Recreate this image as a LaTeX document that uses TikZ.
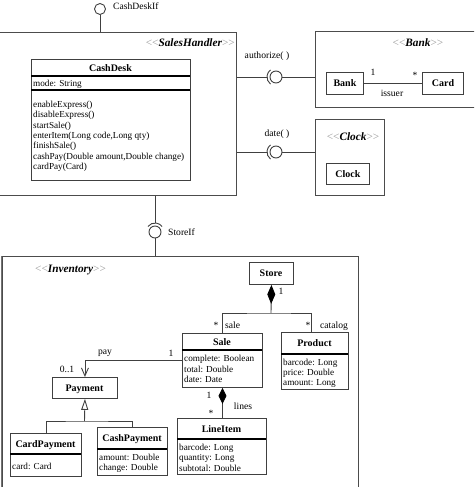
\documentclass[tikz,border=0pt]{standalone}
\usepackage{fontspec}
\setmainfont{Liberation Serif}
\usetikzlibrary{arrows.meta}
\begin{document}
\begin{tikzpicture}[x=1pt,y=-1pt,
  pkg/.style={draw=black!70,line width=0.9pt,inner sep=0,anchor=north west},
  cls/.style={draw=black!75,line width=0.9pt,inner sep=0,anchor=north west,fill=white},
  sep/.style={line width=1.6pt,black},
  ttl/.style={font=\fontsize{10}{12}\selectfont\bfseries,anchor=base,inner sep=0},
  txt/.style={font=\fontsize{9.2}{10.4}\selectfont,anchor=base west,inner sep=0},
  lbl/.style={font=\fontsize{9.6}{11}\selectfont,anchor=base,inner sep=0},
  ster/.style={font=\fontsize{11.3}{13}\selectfont,anchor=base,inner sep=0},
  conn/.style={draw=black!75,line width=0.9pt},
  comp/.style={{Diamond[length=#1,width=8pt,color=black,fill=black]}-},
  ball/.style={circle,draw=black!75,line width=0.9pt,minimum size=12pt,inner sep=0},
]
\useasboundingbox (0,0) rectangle (474,487);
\clip (0,0) rectangle (474,487);
\newcommand{\stereo}[1]{{\color{black!40}{<}{<}}\textbf{\textit{#1}}{\color{black!40}{>}{>}}}

% ---------- packages ----------
\node[pkg, minimum width=241, minimum height=163] (sales) at (-5,32) {};
\node[pkg, minimum width=170, minimum height=76] (bank) at (315,31) {};
\node[pkg, minimum width=69, minimum height=76] (clock) at (315,119) {};
\node[pkg, minimum width=356.5, minimum height=250] (inv) at (1.5,256) {};
\draw[black!55,line width=1.8pt] (inv.north west) -- (inv.south west);

\node[ster, anchor=base east] (salesS) at (235,46.5) {\stereo{SalesHandler}};
\node[ster] (bankS) at (418,46.5) {\stereo{Bank}};
\node[ster] (clockS) at (353,140.5) {\stereo{Clock}};
\node[ster, anchor=base west] (invS) at (35,272.5) {\stereo{Inventory}};

% ---------- CashDeskIf ----------
\node[ball, minimum size=11pt] (cdball) at (100,9) {};
\draw[conn] (cdball.south) -- (sales.north -| cdball);
\node[lbl, anchor=base west] (cdlbl) at (113,9.5) {CashDeskIf};

% ---------- CashDesk ----------
\node[cls, minimum width=159, minimum height=121] (cashdesk) at (31,59) {};
\draw[sep] (31,76) -- (190,76);
\draw[sep] (31,90) -- (190,90);
\node[ttl] (cashdeskT) at (110.5,71.5) {CashDesk};
\node[txt] (cdattr) at (33,86.5) {mode: String};
\foreach \t [count=\i from 0] in {enableExpress(),disableExpress(),startSale(),{enterItem(Long code,Long qty)},finishSale(),{cashPay(Double amount,Double change)},cardPay(Card)}
  \node[txt] (cdop\i) at (33,107.3+10.4*\i) {\t};

% ---------- authorize / date interfaces ----------
\node[ball] (aball) at (276,77) {};
\coordinate (asock) at (267,77);
\draw[conn] (sales.east |- aball) -- (asock);
\draw[conn] ([shift={(128:9)}]aball.center) arc[start angle=128,end angle=232,radius=9];
\draw[conn] (aball.east) -- (bank.west |- aball);
\node[lbl] (albl) at (267,59) {authorize( )};

\node[ball] (dball) at (276,152) {};
\coordinate (dsock) at (267,152);
\draw[conn] (sales.east |- dball) -- (dsock);
\draw[conn] ([shift={(128:9)}]dball.center) arc[start angle=128,end angle=232,radius=9];
\draw[conn] (dball.east) -- (clock.west |- dball);
\node[lbl] (dlbl) at (277,136) {date( )};

% ---------- Bank package ----------
\node[cls, minimum width=37, minimum height=22] (bankc) at (326,72) {};
\node[ttl] (bankcT) at (bankc.center) [yshift=-3.5pt] {Bank};
\node[cls, minimum width=41, minimum height=22] (card) at (422,72) {};
\node[ttl] (cardT) at (card.center) [yshift=-3.5pt] {Card};
\draw[conn] (bankc.east) -- (card.west);
\node[lbl] (b1) at (373,75) {1};
\node[lbl] (bstar) at (415,78) {*};
\node[lbl] (issuer) at (392,96) {issuer};

% ---------- Clock package ----------
\node[cls, minimum width=43, minimum height=21] (clockc) at (326,163) {};
\node[ttl] (clockcT) at (clockc.center) [yshift=-3.5pt] {Clock};

% ---------- StoreIf ----------
\node[ball] (sball) at (155,232) {};
\coordinate (ssock) at (155,223);
\draw[conn] (sales.south -| sball) -- (ssock);
\draw[conn] ([shift={(218:9)}]sball.center) arc[start angle=218,end angle=322,radius=9];
\draw[conn] (sball.south) -- (inv.north -| sball);
\node[lbl, anchor=base west] (slbl) at (168,235) {StoreIf};

% ---------- Inventory classes ----------
\node[cls, minimum width=44, minimum height=22] (store) at (249,262) {};
\node[ttl] (storeT) at (271,276.5) {Store};

\node[cls, minimum width=80, minimum height=54] (sale) at (182,333) {};
\draw[sep] (182,350) -- (262,350);
\node[ttl] (saleT) at (222,345) {Sale};
\node[txt] (sa0) at (184,361.5) {complete: Boolean};
\node[txt] (sa1) at (184,372) {total: Double};
\node[txt] (sa2) at (184,382.5) {date: Date};

\node[cls, minimum width=67, minimum height=57] (product) at (281,332) {};
\draw[sep] (281,354) -- (348,354);
\node[ttl] (productT) at (314.5,346.5) {Product};
\node[txt] (pa0) at (283,365.2) {barcode: Long};
\node[txt] (pa1) at (283,375.2) {price: Double};
\node[txt] (pa2) at (283,385.2) {amount: Long};

\node[cls, minimum width=89, minimum height=56] (lineitem) at (177,418) {};
\draw[sep] (177,439) -- (266,439);
\node[ttl] (lineitemT) at (221.5,432) {LineItem};
\node[txt] (la0) at (179,450.5) {barcode: Long};
\node[txt] (la1) at (179,460.8) {quantity: Long};
\node[txt] (la2) at (179,471) {subtotal: Double};

\node[cls, minimum width=65, minimum height=21] (payment) at (52,377) {};
\node[ttl] (paymentT) at (84.5,391) {Payment};

\node[cls, minimum width=71, minimum height=43] (cardpay) at (10,433) {};
\draw[sep] (10,454) -- (81,454);
\node[ttl] (cardpayT) at (45.5,447) {CardPayment};
\node[txt] (ca0) at (12,469.2) {card: Card};

\node[cls, minimum width=70, minimum height=48] (cashpay) at (97,427) {};
\draw[sep] (97,449) -- (167,449);
\node[ttl] (cashpayT) at (132,441.5) {CashPayment};
\node[txt] (cs0) at (99,460.5) {amount: Double};
\node[txt] (cs1) at (99,470.6) {change: Double};

% ---------- Inventory connectors ----------
\coordinate (storebar) at (271,313);
\coordinate (pcon) at (311,332);
\draw[conn, comp=19pt] (store.south) -- (storebar);
\draw[conn] (sale.north) |- (storebar) -| (pcon);
\node[lbl] (stone) at (281,294) {1};
\node[lbl] (sstar) at (216,328.5) {*};
\node[lbl, anchor=base west] (salelbl) at (225,328) {sale};
\node[lbl] (pstar) at (308,328.5) {*};
\node[lbl, anchor=base west] (catlbl) at (320,328) {catalog};

\draw[conn, comp=16pt] (sale.south) -- (sale.south |- lineitem.north);
\node[lbl] (lone) at (209,398.5) {1};
\node[lbl] (lstar) at (211,416) {*};
\node[lbl] (lineslbl) at (243,409.5) {lines};

\draw[conn, -{Straight Barb[length=8pt,width=7pt]}] (sale.west) -| (payment.north);
\node[lbl] (paylbl) at (105,354.5) {pay};
\node[lbl] (payone) at (171,356) {1};
\node[lbl] (payzero) at (67,372.5) {0..1};

\coordinate (genbar) at (84.5,421);
\draw[conn, -{Triangle[open,length=11pt,width=7pt]}] (genbar) -- (payment.south);
\draw[conn] (cardpay.north) |- (genbar) -| (cashpay.north);
\end{tikzpicture}
\end{document}
